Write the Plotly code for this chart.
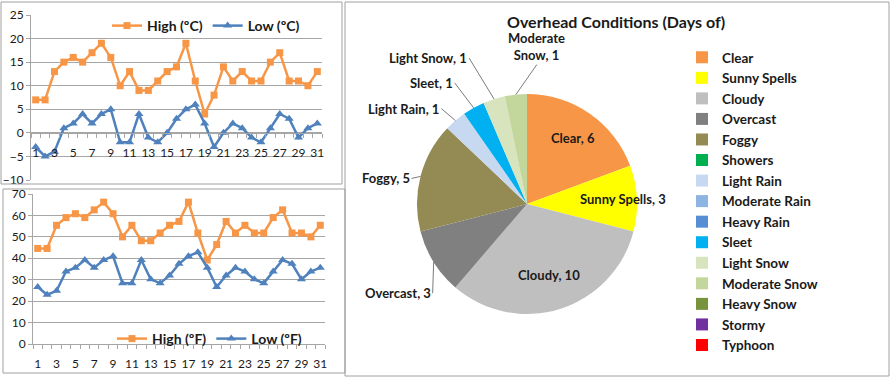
import math
import plotly.graph_objects as go

# ---------------- data ----------------
days = list(range(1, 32))
high_c = [7, 7, 13, 15, 16, 15, 17, 19, 16, 10, 13, 9, 9, 11, 13, 14, 19, 11, 4, 8, 14, 11, 13, 11, 11, 15, 17, 11, 11, 10, 13]
low_c = [-3, -5, -4, 1, 2, 4, 2, 4, 5, -2, -2, 4, -1, -2, 0, 3, 5, 6, 2, -3, 0, 2, 1, -1, -2, 1, 4, 3, -1, 1, 2]
high_f = [44.6, 44.6, 55.4, 59, 60.8, 59, 62.6, 66.2, 60.8, 50, 55.4, 48.2, 48.2, 51.8, 55.4, 57.2, 66.2, 51.8, 39.2, 46.4,
          57.2, 51.8, 55.4, 51.8, 51.8, 59, 62.6, 51.8, 51.8, 50, 55.4]
low_f = [26.6, 23, 24.8, 33.8, 35.6, 39.2, 35.6, 39.2, 41, 28.4, 28.4, 39.2, 30.2, 28.4, 32, 37.4, 41, 42.8, 35.6, 26.6,
         32, 35.6, 33.8, 30.2, 28.4, 33.8, 39.2, 37.4, 30.2, 33.8, 35.6]

conditions = ["Clear", "Sunny Spells", "Cloudy", "Overcast", "Foggy", "Showers", "Light Rain", "Moderate Rain",
              "Heavy Rain", "Sleet", "Light Snow", "Moderate Snow", "Heavy Snow", "Stormy", "Typhoon"]
condition_days = [6, 3, 10, 3, 5, 0, 1, 0, 0, 1, 1, 1, 0, 0, 0]
condition_colors = ["#F79646", "#FFFF00", "#BFBFBF", "#808080", "#948A54", "#00B050", "#C6D9F1", "#8DB4E2",
                    "#558ED5", "#00B0F0", "#D7E4BD", "#C3D69B", "#77933C", "#7030A0", "#FF0000"]

# label placement style (layout only): inside labels -> radial fraction,
# outside labels -> (tail dx, tail dy, xanchor) in pixels from the slice edge
label_style = {
    "Clear": ("in", 0.73),
    "Sunny Spells": ("in", 0.87),
    "Cloudy": ("in", 0.68),
    "Overcast": ("out", (-1, 31, "right")),
    "Foggy": ("out", (-9, 2, "right")),
    "Light Rain": ("out", (-14, -12, "right")),
    "Sleet": ("out", (-19, -25, "right")),
    "Light Snow": ("out", (-25, -41, "right")),
    "Moderate Snow": ("out", (21, -30, "center")),
}

# ---------------- layout helpers ----------------
W, H = 890, 379
def px(x):
    return x / W
def py(y):
    return 1 - y / H

ORANGE = "#F79646"
BLUE = "#4F81BD"
GRID = "#A6A6A6"
FONT = "Lato"
TXT = "#1a1a1a"

fig = go.Figure()

# top chart (Celsius)
fig.add_trace(go.Scatter(x=days, y=high_c, name="High (ºC)", mode="lines+markers",
                         line=dict(color=ORANGE, width=2.5),
                         marker=dict(symbol="square", size=7, color=ORANGE),
                         xaxis="x", yaxis="y", legend="legend"))
fig.add_trace(go.Scatter(x=days, y=low_c, name="Low (ºC)", mode="lines+markers",
                         line=dict(color=BLUE, width=2.5),
                         marker=dict(symbol="triangle-up", size=8, color=BLUE),
                         xaxis="x", yaxis="y", legend="legend"))
# bottom chart (Fahrenheit)
fig.add_trace(go.Scatter(x=days, y=high_f, name="High (ºF)", mode="lines+markers",
                         line=dict(color=ORANGE, width=2.5),
                         marker=dict(symbol="square", size=7, color=ORANGE),
                         xaxis="x2", yaxis="y2", legend="legend2"))
fig.add_trace(go.Scatter(x=days, y=low_f, name="Low (ºF)", mode="lines+markers",
                         line=dict(color=BLUE, width=2.5),
                         marker=dict(symbol="triangle-up", size=8, color=BLUE),
                         xaxis="x2", yaxis="y2", legend="legend2"))

# pie geometry (layout)
PCX, PCY, PR = 527, 204, 110
fig.add_trace(go.Pie(labels=conditions, values=condition_days, textinfo="none",
                     sort=False, direction="clockwise", rotation=0,
                     marker=dict(colors=condition_colors, line=dict(width=0)),
                     domain=dict(x=[px(PCX - PR), px(PCX + PR)], y=[py(PCY + PR), py(PCY - PR)]),
                     legend="legend3", showlegend=True, hoverinfo="label+value"))

# data labels for the pie, positioned from the slice angles
annotations = [dict(text="<b>Overhead Conditions (Days of)</b>", x=px(616), y=py(21), xref="paper",
                    yref="paper", showarrow=False, xanchor="center", yanchor="middle",
                    font=dict(family=FONT, size=16, color=TXT))]
total = sum(condition_days)
cum = 0
for lab, v in zip(conditions, condition_days):
    if v <= 0:
        continue
    mid = (cum + v / 2) / total * 2 * math.pi
    cum += v
    txt = f"<b>{lab.replace('Moderate Snow', 'Moderate<br>Snow')}, {v}</b>"
    kind, st = label_style[lab]
    if kind == "in":
        r = PR * st
        annotations.append(dict(text=txt, x=px(PCX + r * math.sin(mid)), y=py(PCY - r * math.cos(mid)),
                                xref="paper", yref="paper", showarrow=False, xanchor="center",
                                yanchor="middle", font=dict(family=FONT, size=13, color=TXT)))
    else:
        dx, dy, xa = st
        hx, hy = PCX + PR * math.sin(mid), PCY - PR * math.cos(mid)
        annotations.append(dict(text=txt, x=px(hx), y=py(hy), xref="paper", yref="paper",
                                showarrow=True, arrowhead=0, arrowwidth=0.8, arrowcolor="#595959",
                                ax=dx, ay=dy, xanchor=xa, yanchor="bottom" if xa == "center" else "middle",
                                font=dict(family=FONT, size=13, color=TXT), align="center"))

tickfont = dict(family=FONT, size=12, color=TXT)

# y=0 position of the top chart
top_y_top, top_y_bot = 15, 180
zero_pix = top_y_bot - (0 - (-10)) * (top_y_bot - top_y_top) / 35

fig.update_layout(
    width=W, height=H, margin=dict(l=0, r=0, t=0, b=0, autoexpand=False),
    paper_bgcolor="white", plot_bgcolor="white",
    font=dict(family=FONT, color=TXT),
    xaxis=dict(domain=[px(31), px(322)], range=[0.5, 31.5], tick0=1, dtick=2, ticks="",
               anchor="free", position=py(zero_pix), showgrid=False, zeroline=False, automargin=False,
               showline=True, linecolor=GRID, linewidth=1, tickfont=tickfont, ticklabelstandoff=9,
               minor=dict(tick0=0.5, dtick=1, ticks="outside", ticklen=4, tickcolor=GRID, showgrid=False)),
    yaxis=dict(domain=[py(top_y_bot), py(top_y_top)], range=[-10, 25], dtick=5, showgrid=True,
               gridcolor=GRID, gridwidth=1, zeroline=False, showline=True, linecolor=GRID, automargin=False,
               ticks="outside", ticklen=4, tickcolor=GRID, tickfont=tickfont, anchor="x"),
    xaxis2=dict(domain=[px(33), px(325)], range=[0.5, 31.5], tick0=1, dtick=2, ticks="",
                anchor="y2", showgrid=False, zeroline=False, showline=True, linecolor=GRID, automargin=False,
                tickfont=tickfont, ticklabelstandoff=9,
                minor=dict(tick0=0.5, dtick=1, ticks="outside", ticklen=4, tickcolor=GRID, showgrid=False)),
    yaxis2=dict(domain=[py(344), py(194)], range=[0, 70], dtick=10, showgrid=True, gridcolor=GRID,
                gridwidth=1, zeroline=False, showline=True, linecolor=GRID, ticks="outside", ticklen=4,
                tickcolor=GRID, tickfont=tickfont, anchor="x2", automargin=False),
    legend=dict(orientation="h", x=px(107), y=py(26), xanchor="left", yanchor="middle",
                bgcolor="rgba(255,255,255,0)", font=dict(family=FONT, size=14, color=TXT, weight="bold"),
                itemwidth=30),
    legend2=dict(orientation="h", x=px(112), y=py(339), xanchor="left", yanchor="middle",
                 bgcolor="rgba(255,255,255,0)", font=dict(family=FONT, size=14, color=TXT, weight="bold"),
                 itemwidth=30),
    legend3=dict(orientation="v", x=px(682), y=py(42), xanchor="left", yanchor="top",
                 bgcolor="rgba(255,255,255,0)", font=dict(family=FONT, size=13.5, color=TXT, weight="bold"),
                 traceorder="normal", itemwidth=30),
    annotations=annotations,
    shapes=[
        dict(type="rect", xref="paper", yref="paper", x0=px(1), x1=px(342), y0=py(184), y1=py(2),
             line=dict(color="#A0A0A0", width=1)),
        dict(type="rect", xref="paper", yref="paper", x0=px(3), x1=px(345), y0=py(373), y1=py(189),
             line=dict(color="#A0A0A0", width=1)),
        dict(type="rect", xref="paper", yref="paper", x0=px(345), x1=px(889), y0=py(376), y1=py(2),
             line=dict(color="#A0A0A0", width=1)),
    ],
)

fig.write_html("out.html", config={"displayModeBar": False},
               post_script="document.body.style.margin='0';document.body.style.overflow='hidden';")
